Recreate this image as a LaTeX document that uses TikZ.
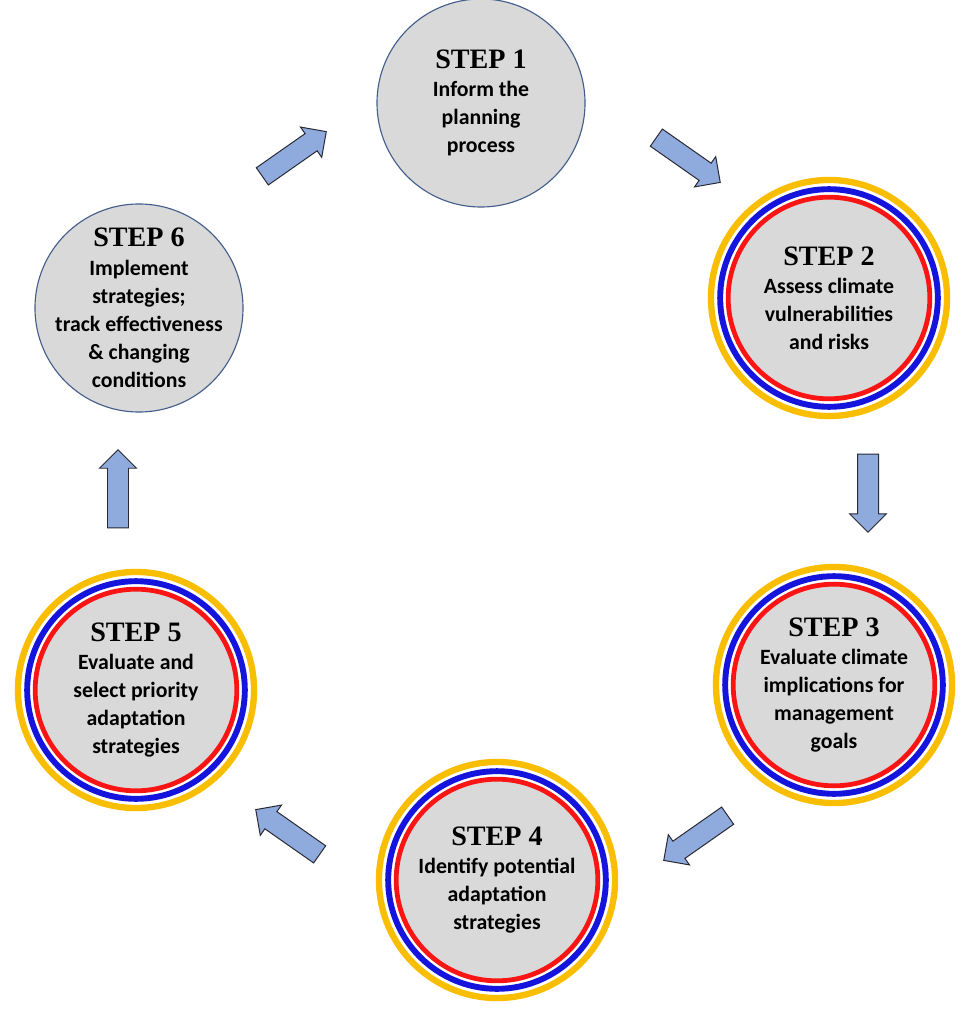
\documentclass[tikz,border=0pt]{standalone}
\usepackage{fontspec}
\setmainfont{Liberation Serif}
\newfontfamily\stepbody{Carlito}
\usetikzlibrary{shapes.arrows}
\definecolor{stepgray}{RGB}{217,217,217}
\definecolor{stepedge}{RGB}{68,94,140}
\definecolor{ringyellow}{RGB}{250,190,0}
\definecolor{ringblue}{RGB}{20,20,220}
\definecolor{ringred}{RGB}{250,20,20}
\definecolor{arrowblue}{RGB}{143,170,220}
\definecolor{arrowedge}{RGB}{40,40,50}

\newcommand{\stephead}[1]{{\rmfamily\fontsize{20}{23}\selectfont STEP #1}}

\begin{document}
\begin{tikzpicture}[x=0.025cm,y=-0.025cm,
  steptext/.style={align=center, inner sep=0pt,
    font=\stepbody\fontsize{15.5}{20}\selectfont\bfseries},
  yring/.style={draw=ringyellow, line width=4.5pt},
  bring/.style={draw=ringblue, line width=4.2pt},
  rring/.style={draw=ringred, line width=3.4pt, fill=stepgray},
  flow/.style={single arrow, draw=arrowedge, line width=0.7pt, fill=arrowblue,
    minimum height=1.95cm, text height=0.25cm, text depth=0.25cm, inner sep=0pt,
    single arrow head extend=0.2cm, single arrow tip angle=90}
]
\useasboundingbox (0,0) rectangle (960,1023);

% Plain discs for steps 1 and 6
\foreach \cx/\cy in {481/103, 139/308}
  \draw[stepedge, line width=0.8pt, fill=stepgray] (\cx,\cy) circle (2.6cm);

% Rings for steps 2 to 5
\foreach \cx/\cy in {829/298, 834/685, 497/880, 136/690}{
  \fill[white] (\cx,\cy) circle (3.05cm);
  \draw[yring] (\cx,\cy) circle (2.95cm);
  \draw[bring] (\cx,\cy) circle (2.72cm);
  \draw[rring] (\cx,\cy) circle (2.52cm);
}

% Steps
\node[steptext] (s1) at (481,103) {\stephead{1}\\Inform the\\planning\\process};
\node[steptext] (s2) at (829,298) {\stephead{2}\\Assess climate\\vulnerabilities\\and risks};
\node[steptext] (s3) at (834,685) {\stephead{3}\\Evaluate climate\\implications for\\management\\goals};
\node[steptext] (s4) at (497,880) {\stephead{4}\\Identify potential\\adaptation\\strategies};
\node[steptext] (s5) at (136,690) {\stephead{5}\\Evaluate and\\select priority\\adaptation\\strategies};
\node[steptext] (s6) at (139,308) {\stephead{6}\\Implement\\strategies;\\track effectiveness\\\& changing\\conditions};

% Arrows between steps
\node[flow, rotate=35] (a61) at (290,157) {};
\node[flow, rotate=-35] (a12) at (684,157) {};
\node[flow, rotate=-90] (a23) at (868,488) {};
\node[flow, rotate=-145] (a34) at (700,835) {};
\node[flow, rotate=145] (a45) at (292,835) {};
\node[flow, rotate=90] (a56) at (118,494) {};
\end{tikzpicture}
\end{document}
